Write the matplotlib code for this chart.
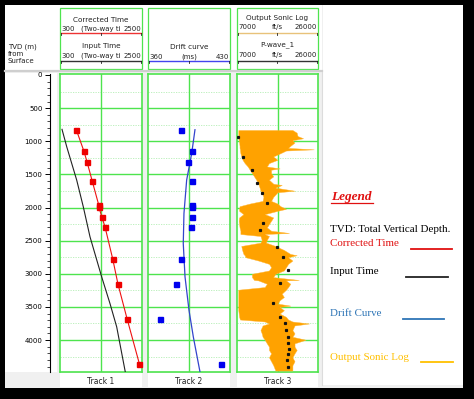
import matplotlib
matplotlib.use('Agg')
import matplotlib.pyplot as plt
from matplotlib.patches import Rectangle

# ---------------- data ----------------
# Track 1: corrected time (red squares) and input time (black line), ms two-way
corr_depth = [826, 1153, 1309, 1606, 1959, 1999, 2150, 2291, 2775, 3157, 3676, 4355]
corr_time = [737, 944, 1024, 1167, 1338, 1346, 1427, 1507, 1714, 1856, 2098, 2428]
input_depth = [820, 1082, 1586, 1989, 2442, 3046, 3449, 3801, 4482]
input_time = [354, 480, 748, 925, 1105, 1418, 1641, 1821, 2052]

# Track 2: drift (ms)
drift_pt_depth = [826, 1153, 1309, 1606, 1959, 1999, 2150, 2291, 2775, 3157, 3676, 4355]
drift_pt_val = [388.2, 397.8, 394.4, 397.8, 397.8, 397.6, 397.8, 396.7, 388.2, 384.2, 370.0, 422.0]
drift_curve_depth = [826, 1183, 1586, 2089, 2542, 3046, 3550, 3953, 4482]
drift_curve_val = [400.1, 397.3, 393.0, 390.7, 390.1, 391.6, 395.0, 398.7, 404.4]

# Track 3: output sonic log envelope (ft/s) and P-wave points
sonic_depth = [830, 870, 920, 955, 985, 1020, 1070, 1100, 1122, 1140, 1180, 1230, 1280, 1330,
               1380, 1410, 1430, 1480, 1530, 1580, 1640, 1660, 1700, 1746, 1770, 1840, 1900, 1940,
               1980, 2020, 2050, 2100, 2150, 2200, 2250, 2300, 2350, 2384, 2400, 2430, 2490, 2530,
               2580, 2640, 2700, 2720, 2750, 2800, 2850, 2900, 2950, 3000, 3050, 3093, 3100, 3150,
               3200, 3240, 3300, 3350, 3400, 3450, 3480, 3500, 3550, 3600, 3650, 3690, 3720,
               3750, 3780, 3850, 3900, 3950, 3995, 4050, 4100, 4150, 4200, 4260, 4320,
               4380, 4460]
sonic_lo = [7300, 7300, 7300, 7300, 7400, 7500, 7600, 7600, 7700, 7700, 7800, 8000, 8300, 8800,
            9500, 9800, 10000, 10500, 11000, 11500, 12000, 12100, 12300, 12500, 12800, 13200, 13000, 10000,
            7600, 7500, 7500, 8500, 7500, 7400, 7500, 7600, 7800, 7800, 7800, 12500, 12800, 12500,
            8000, 8200, 8500, 8800, 9000, 12000, 14500, 15000, 14500, 10500, 10500, 11000, 12000, 14000,
            13500, 7300, 7300, 7300, 7300, 7300, 7300, 7300, 7300, 7400, 7500, 7700, 13500,
            14500, 13000, 12500, 12800, 13000, 13500, 14000, 14500, 14500, 15000, 14500, 15000,
            15500, 16000]
sonic_hi = [20000, 21000, 21200, 22500, 20000, 20500, 19500, 19000, 25000, 18500, 17200, 15500, 16500, 14500,
            14000, 17000, 15000, 15000, 15500, 14500, 15500, 17500, 16000, 20500, 16500, 15500, 15000, 16500,
            17200, 18500, 16500, 13500, 15500, 15000, 14500, 14000, 15000, 19200, 13500, 14500, 14000, 13800,
            16000, 18000, 19500, 21000, 19000, 20000, 19000, 18500, 18000, 16000, 15500, 21500, 18500, 19500,
            19000, 18500, 17500, 18000, 17000, 16500, 19500, 17000, 18000, 17000, 18500, 19000, 20000,
            23900, 20500, 20000, 20500, 20000, 23100, 20500, 20500, 21000, 20500, 20000, 20500,
            20000, 20000]
pwave_depth = [931, 1233, 1435, 1636, 1787, 1938, 2240, 2341, 2592, 2743, 2945, 3146,
               3448, 3649, 3750, 3850, 3953, 4050, 4130, 4203, 4300, 4404]
pwave_val = [7310, 8480, 10450, 11620, 12790, 13970, 13170, 12400, 16310, 17860, 19040, 17090,
             15520, 17090, 18270, 18600, 19040, 18900, 19200, 19040, 18800, 19040]

depth_ticks = [0, 500, 1000, 1500, 2000, 2500, 3000, 3500, 4000]
track_names = ["Track 1", "Track 2", "Track 3"]

# ---------------- layout helpers ----------------
W, H = 474, 399
fig = plt.figure(figsize=(W / 100, H / 100), dpi=100, facecolor='black')
FONT = 'DejaVu Sans'

def rect(x0, y0, x1, y1):
    return [x0 / W, 1 - y1 / H, (x1 - x0) / W, (y1 - y0) / H]

# pixel-coordinate canvas for backgrounds, headers and legend
bg = fig.add_axes([0, 0, 1, 1], zorder=0)
bg.set_xlim(0, W)
bg.set_ylim(H, 0)
bg.axis('off')

def box(x0, y0, x1, y1, fc, ec='none', lw=0):
    bg.add_patch(Rectangle((x0, y0), x1 - x0, y1 - y0, facecolor=fc, edgecolor=ec, lw=lw))

box(5, 5, 463, 388, '#f0f0f0')
box(5, 5, 322, 70, 'white')
box(5, 73, 57, 372, 'white')
box(323, 5, 463, 385, 'white')
bg.plot([5, 322], [71, 71], color='#cfcfcf', lw=1.6)
bg.plot([322.5, 322.5], [72, 385], color='#dcdcdc', lw=0.8)

tracks = [(60, 142), (148, 230), (237, 318)]
GREEN = '#4ee44e'
for (x0, x1), name in zip(tracks, track_names):
    box(x0, 8, x1, 69, 'white', GREEN, 0.9)
    box(x0, 373, x1, 387, 'white')
    bg.text((x0 + x1) / 2, 381, name, fontsize=5.5, family=FONT, ha='center', va='center', color='#222222')

bg.text(8, 54, "TVD (m)\nfrom\nSurface", fontsize=5, family=FONT, ha='left', va='center',
        linespacing=1.15, color='#222222')

def header_scale(x0, x1, ytitle, title, yl, lo, mid, hi, ycol, color):
    bg.text((x0 + x1) / 2, ytitle, title, fontsize=5.2, family=FONT, ha='center', va='center', color='#222222')
    bg.text(x0 + 1, yl, lo, fontsize=5, family=FONT, ha='left', va='center', color='#222222')
    bg.text((x0 + x1) / 2, yl, mid, fontsize=5, family=FONT, ha='center', va='center', color='#222222')
    bg.text(x1 - 1, yl, hi, fontsize=5, family=FONT, ha='right', va='center', color='#222222')
    bg.plot([x0 + 1, x1 - 1], [ycol, ycol], color=color, lw=1.0)
    for xt in (x0 + 1, (x0 + x1) / 2, x1 - 1):
        bg.plot([xt, xt], [ycol, ycol + 2.2], color='#222222', lw=0.6)

header_scale(60, 142, 20, "Corrected Time", 29, "300", "(Two-way ti", "2500", 33, '#ee3333')
header_scale(60, 142, 46, "Input Time", 56, "300", "(Two-way ti", "2500", 61, '#333333')
header_scale(148, 230, 47, "Drift curve", 57, "360", "(ms)", "430", 61, '#4444ee')
header_scale(237, 318, 18, "Output Sonic Log", 27, "7000", "ft/s", "26000", 33, '#e8c27a')
header_scale(237, 318, 45, "P-wave_1", 55, "7000", "ft/s", "26000", 61, '#333333')

# legend
SERIF = 'Liberation Serif'
bg.text(331, 197, "Legend", fontsize=9.5, family=SERIF, weight='bold', style='italic',
        color='#e01010', ha='left', va='center')
bg.plot([331, 373], [203, 203], color='#e01010', lw=0.9)
bg.text(330, 229, "TVD: Total Vertical Depth.", fontsize=7.9, family=SERIF, color='black', ha='left', va='center')
bg.text(330, 243, "Corrected Time", fontsize=7.9, family=SERIF, color='#e01010', ha='left', va='center')
bg.plot([411, 452], [249, 249], color='#e01010', lw=1.3)
bg.text(330, 272, "Input Time", fontsize=7.9, family=SERIF, color='black', ha='left', va='center')
bg.plot([406, 448], [277, 277], color='#222222', lw=1.3)
bg.text(330, 314, "Drift Curve", fontsize=7.9, family=SERIF, color='#2e75b6', ha='left', va='center')
bg.plot([403, 444], [319, 319], color='#2e75b6', lw=1.3)
bg.text(330, 357, "Output Sonic Log", fontsize=7.9, family=SERIF, color='#ffc000', ha='left', va='center')
bg.plot([421, 453], [362, 362], color='#ffc000', lw=1.3)

# ---------------- tracks ----------------
YLIM = (4482, -15)
xlims = [(300, 2500), (360, 430), (7000, 26000)]
axes = []
for (x0, x1), xl in zip(tracks, xlims):
    ax = fig.add_axes(rect(x0, 74, x1, 372), zorder=1)
    ax.set_facecolor('white')
    ax.set_xlim(*xl)
    ax.set_ylim(*YLIM)
    ax.set_xticks([])
    ax.set_yticks([])
    for s in ax.spines.values():
        s.set_color(GREEN)
        s.set_linewidth(1.2)
    for d in depth_ticks[1:]:
        ax.axhline(d, color=GREEN, lw=1.0, zorder=0.5)
    for d in depth_ticks:
        ax.axhline(d + 250, color='#b4eeb4', lw=0.6, ls=(0, (1.5, 1.5)), zorder=0.5)
    ax.axvline((xl[0] + xl[1]) / 2, color=GREEN, lw=1.0, zorder=0.5)
    axes.append(ax)

a1, a2, a3 = axes
a1.plot(input_time, input_depth, color='#222222', lw=0.8, zorder=3)
a1.plot(corr_time, corr_depth, color='#ee1111', lw=0.8, marker='s', ms=3.6,
        markerfacecolor='#ee0000', markeredgecolor='#ee0000', zorder=4, clip_on=False)

a2.plot(drift_curve_val, drift_curve_depth, color='#3344cc', lw=0.9, zorder=3)
a2.plot(drift_pt_val, drift_pt_depth, ls='none', marker='s', ms=3.6, color='#0000ee', zorder=4)

a3.fill_betweenx(sonic_depth, sonic_lo, sonic_hi, color='#ffa200', lw=0.3, edgecolor='#ffb733', zorder=3)
a3.plot(pwave_val, pwave_depth, ls='none', marker='s', ms=1.3, color='#111111', zorder=4)

# depth axis
ad = fig.add_axes(rect(50, 74, 51, 372), zorder=1)
ad.set_ylim(*YLIM)
ad.set_xticks([])
ad.patch.set_alpha(0)
for k in ('top', 'right', 'bottom'):
    ad.spines[k].set_visible(False)
ad.spines['left'].set_linewidth(0.8)
ad.set_yticks(depth_ticks)
ad.set_yticklabels([str(d) for d in depth_ticks], fontsize=5, family=FONT)
ad.set_yticks(range(100, 4500, 100), minor=True)
ad.tick_params(axis='y', which='major', length=3.5, width=0.7, pad=2)
ad.tick_params(axis='y', which='minor', length=2, width=0.5)

fig.savefig('out.png', dpi=100, facecolor='black')
